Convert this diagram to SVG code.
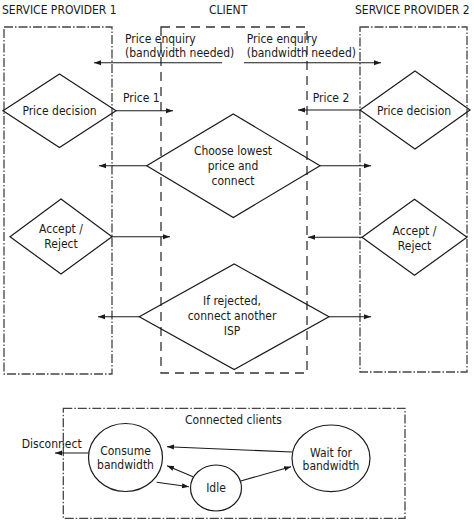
<svg xmlns="http://www.w3.org/2000/svg" width="474" height="520" viewBox="0 0 474 520">
<defs>
<marker id="ah" markerWidth="8" markerHeight="6" refX="7" refY="3" orient="auto" markerUnits="userSpaceOnUse">
<path d="M0,0.5 L7,3 L0,5.5 Z" fill="#1a1a1a"/>
</marker>
<style>
text{font-family:"DejaVu Sans Condensed","DejaVu Sans",sans-serif;font-stretch:condensed;font-size:12px;fill:#1a1a1a}
.c{text-anchor:middle}
.shape{fill:none;stroke:#1a1a1a;stroke-width:1.2}
.ell{fill:#fff;stroke:#1a1a1a;stroke-width:1.2}
.dd{fill:none;stroke:#444;stroke-width:1.3;stroke-dasharray:9 2 1.5 2}
.ds{fill:none;stroke:#333;stroke-width:1.3;stroke-dasharray:9 6}
.ln{fill:none;stroke:#1a1a1a;stroke-width:1.1;marker-end:url(#ah)}
</style>
</defs>
<rect width="474" height="520" fill="#fff"/>

<g id="lanes">
<rect id="sp1-lane" class="dd" x="4" y="27" width="108" height="347"/>
<rect id="client-lane" class="ds" x="161" y="27" width="146" height="346"/>
<rect id="sp2-lane" class="dd" x="360" y="27" width="107" height="345"/>
<text x="2" y="14">SERVICE PROVIDER 1</text>
<text x="209" y="14">CLIENT</text>
<text x="355" y="14">SERVICE PROVIDER 2</text>
</g>

<g id="price-decision-1">
<polygon class="shape" points="59.5,74 116,110.7 59.5,147.5 3,110.7"/>
<text class="c" x="59.5" y="115">Price decision</text>
</g>
<g id="price-decision-2">
<polygon class="shape" points="415,71 470,110 415,149 360,110"/>
<text class="c" x="414" y="115">Price decision</text>
</g>
<g id="choose-lowest">
<polygon class="shape" points="233.3,114 320,165.7 233.3,217.5 146.7,165.7"/>
<text class="c" x="233" y="155">Choose lowest</text>
<text class="c" x="233" y="170">price and</text>
<text class="c" x="233" y="185">connect</text>
</g>
<g id="accept-reject-1">
<polygon class="shape" points="61,199 112,236.7 61,274 10,236.7"/>
<text class="c" x="61" y="233">Accept /</text>
<text class="c" x="61" y="248">Reject</text>
</g>
<g id="accept-reject-2">
<polygon class="shape" points="414.5,199.3 467,237.3 414.5,275.3 362,237.3"/>
<text class="c" x="414.5" y="235">Accept /</text>
<text class="c" x="414.5" y="250">Reject</text>
</g>
<g id="if-rejected">
<polygon class="shape" points="234.2,264 329,316.7 234.2,369.5 139.3,316.7"/>
<text class="c" x="232" y="305">If rejected,</text>
<text class="c" x="232" y="320">connect another</text>
<text class="c" x="232" y="335">ISP</text>
</g>

<g id="connected-clients">
<rect class="dd" x="63.3" y="408.3" width="341.7" height="110"/>
<text x="185" y="424">Connected clients</text>
</g>
<g id="consume-bandwidth">
<ellipse class="ell" cx="125.5" cy="457.5" rx="37" ry="34"/>
<text class="c" x="125.5" y="455">Consume</text>
<text class="c" x="125.5" y="469">bandwidth</text>
</g>
<g id="idle">
<ellipse class="ell" cx="216" cy="488" rx="25.5" ry="23"/>
<text class="c" x="216" y="492">Idle</text>
</g>
<g id="wait-for-bandwidth">
<ellipse class="ell" cx="331" cy="458.3" rx="39" ry="33.3"/>
<text class="c" x="331" y="457">Wait for</text>
<text class="c" x="331" y="470">bandwidth</text>
</g>

<g id="connectors">
<line class="ln" x1="222" y1="62.7" x2="94" y2="62.7"/>
<line class="ln" x1="244" y1="62.7" x2="381" y2="62.7"/>
<line class="ln" x1="116" y1="110.7" x2="173" y2="110.7"/>
<line class="ln" x1="360" y1="110" x2="298" y2="110"/>
<line class="ln" x1="146.7" y1="165.7" x2="99" y2="165.7"/>
<line class="ln" x1="320" y1="165.7" x2="371" y2="165.7"/>
<line class="ln" x1="112" y1="236.7" x2="170" y2="236.7"/>
<line class="ln" x1="362" y1="237.3" x2="308" y2="237.3"/>
<line class="ln" x1="139.3" y1="316.7" x2="98" y2="316.7"/>
<line class="ln" x1="329" y1="316.7" x2="371" y2="316.7"/>
<line class="ln" x1="88.5" y1="453" x2="55" y2="453"/>
<line class="ln" x1="292" y1="452" x2="167" y2="446.7"/>
<line class="ln" x1="193" y1="476.7" x2="167" y2="465.7"/>
<line class="ln" x1="156.7" y1="482.3" x2="189" y2="486.7"/>
<line class="ln" x1="240.7" y1="481" x2="291" y2="466.7"/>
<text x="125" y="43">Price enquiry</text>
<text x="125" y="57">(bandwidth needed)</text>
<text x="246.7" y="43">Price enquiry</text>
<text x="246.7" y="57">(bandwidth needed)</text>
<text x="123" y="102">Price 1</text>
<text x="312.7" y="102">Price 2</text>
<text x="21.7" y="448">Disconnect</text>
</g>
</svg>
